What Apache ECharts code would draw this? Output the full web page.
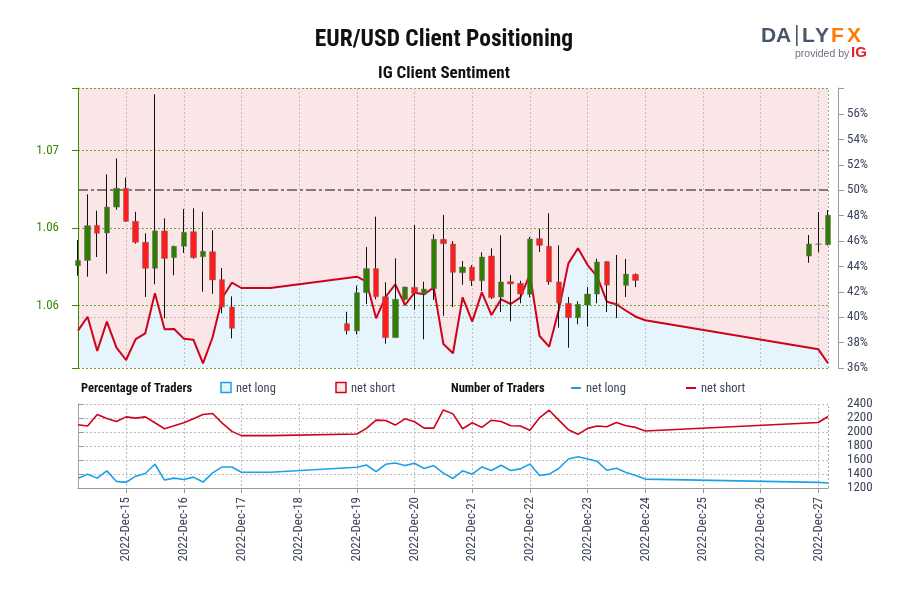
<!DOCTYPE html>
<html><head><meta charset="utf-8">
<style>html,body{margin:0;padding:0;background:#fff}#c{width:900px;height:600px}</style>
<script src="https://cdn.jsdelivr.net/npm/echarts@6/dist/echarts.min.js"></script>
</head><body><div id="c"></div>
<script>
// x positions are 4-hour slots counted from 2022-Dec-14 04:00
const dayLabels = ["2022-Dec-15","2022-Dec-16","2022-Dec-17","2022-Dec-18","2022-Dec-19","2022-Dec-20","2022-Dec-21","2022-Dec-22","2022-Dec-23","2022-Dec-24","2022-Dec-25","2022-Dec-26","2022-Dec-27"];
const dayTicks = [5,11,17,23,29,35,41,47,53,59,65,71,77];
const priceTicks = [1.06,1.065,1.07];
const priceTickLabels = ["1.06","1.06","1.07"];
const pctTicks = [36,38,40,42,44,46,48,50,52,54,56];
const traderTicks = [1200,1400,1600,1800,2000,2200,2400];

const candleSlots = [0,1,2,3,4,5,6,7,8,9,10,11,12,13,14,15,16,28,29,30,31,32,33,34,35,36,37,38,39,40,41,42,43,44,45,46,47,48,49,50,51,52,53,54,55,56,57,58,76,77,78];
const opens  = [1.06257,1.06291,1.06517,1.06468,1.06635,1.06756,1.06543,1.06408,1.0624,1.06481,1.06309,1.06382,1.06476,1.06315,1.06347,1.06167,1.0599,1.05883,1.05836,1.06083,1.06238,1.06057,1.05793,1.0604,1.06117,1.06074,1.06109,1.06427,1.06397,1.06212,1.06248,1.0616,1.06319,1.06055,1.06154,1.06143,1.06072,1.06431,1.06382,1.06152,1.06014,1.05922,1.06003,1.06074,1.06283,1.06008,1.0613,1.06201,1.06319,1.06395,1.06392];
const closes = [1.06291,1.06515,1.06466,1.06635,1.06756,1.06543,1.06408,1.0624,1.06481,1.06304,1.06382,1.06472,1.06309,1.0635,1.06165,1.0599,1.05853,1.05838,1.06083,1.06238,1.06057,1.05793,1.0604,1.06119,1.06079,1.06106,1.06427,1.06399,1.06214,1.06248,1.0616,1.06313,1.06051,1.06152,1.06139,1.06074,1.06429,1.06388,1.06152,1.06016,1.05922,1.06008,1.06074,1.06281,1.06132,1.0601,1.06203,1.06162,1.06397,1.06397,1.06582];
const lows   = [1.06192,1.06186,1.06313,1.06205,1.06618,1.06541,1.06399,1.06055,1.06137,1.05917,1.06195,1.06339,1.06302,1.06089,1.06076,1.0595,1.05788,1.05814,1.05814,1.0601,1.0604,1.05754,1.05793,1.06031,1.05973,1.05782,1.06036,1.05934,1.0599,1.06134,1.06126,1.06094,1.06042,1.05958,1.05898,1.06014,1.06053,1.06345,1.06134,1.05857,1.05728,1.05879,1.05864,1.06014,1.05958,1.05919,1.06055,1.06119,1.06276,1.06343,1.06388];
const highs  = [1.06423,1.06717,1.06612,1.06846,1.06949,1.06825,1.06605,1.06466,1.07362,1.06562,1.06386,1.06623,1.06627,1.06605,1.06485,1.06242,1.06059,1.0596,1.06128,1.06377,1.06573,1.0615,1.06304,1.06122,1.06519,1.06154,1.06459,1.06584,1.06416,1.06287,1.06261,1.06343,1.06369,1.06453,1.06197,1.0616,1.06442,1.06494,1.06595,1.06388,1.06055,1.06027,1.06119,1.06302,1.06287,1.06326,1.063,1.06208,1.06455,1.06603,1.06616];

const sentimentSlots = [0,1,2,3,4,5,6,7,8,9,10,11,12,13,14,15,16,17,20,29,30,31,32,33,34,35,36,37,38,39,40,41,42,43,44,45,46,47,48,49,50,51,52,53,54,55,56,57,58,59,77,78];
const netLongPct = [38.94,40.04,37.34,39.65,37.6,36.63,38.28,38.73,41.88,39.05,39.07,38.31,38.23,36.37,38.42,41.51,42.72,42.3,42.3,43.19,42.8,39.91,41.61,42.59,40.96,41.93,41.8,42.35,37.89,37.16,41.57,39.65,41.96,40.17,41.41,41.04,41.54,43.4,38.52,37.68,40.57,44.24,45.43,44.11,43.19,41.22,41.02,40.51,40.04,39.76,37.47,36.37];
const netShortTraders = [2104,2085,2249,2193,2151,2216,2198,2216,2132,2047,2089,2132,2188,2249,2264,2127,2009,1948,1948,1972,2052,2169,2165,2099,2188,2146,2056,2056,2315,2259,2047,2132,2066,2169,2151,2089,2085,2024,2202,2311,2169,2033,1967,2052,2085,2075,2136,2089,2066,2014,2136,2221];
const netLongTraders = [1336,1398,1341,1445,1294,1280,1369,1407,1539,1313,1341,1322,1355,1285,1416,1501,1501,1426,1426,1496,1529,1435,1539,1558,1520,1553,1478,1520,1412,1336,1445,1398,1501,1449,1525,1449,1473,1544,1379,1398,1478,1614,1647,1614,1581,1454,1482,1421,1379,1327,1280,1271];

const NARROW = "'Liberation Sans Narrow','Roboto Condensed',Roboto,sans-serif";
const SLATE = '#3d4559', GREEN = '#3a8a00', GREY = '#9a9a9a', RED = '#d0021b', BLUE = '#1ba1e8';
const pairs = (ys) => sentimentSlots.map((s,i)=>[s,ys[i]]);
const wickData = candleSlots.map((s,i)=>[s,opens[i],closes[i],lows[i],highs[i]]);
const bodyData = candleSlots.map((s,i)=>[s,opens[i],closes[i],Math.min(opens[i],closes[i]),Math.max(opens[i],closes[i])]);
const vMark = (x,color)=>({xAxis:x,lineStyle:{color,type:[2,2],width:1}});
const txt = (x,y,text,opt)=>({type:'text',x,y,silent:true,style:Object.assign({text,font:"12.5px "+NARROW,fill:SLATE,verticalAlign:'middle'},opt||{})});
const logoLetter = (x,t,c)=>txt(x,36,t,{font:"bold 21px 'Liberation Sans',sans-serif",fill:c});

const xBase = {type:'value',min:0,max:78};
const option = {
  animation:false,
  textStyle:{fontFamily:NARROW},
  title:[
    {text:'EUR/USD Client Positioning',left:439,top:23,textAlign:'center',textStyle:{fontFamily:NARROW,fontSize:23.5,fontWeight:'bold',color:'#111'}},
    {text:'IG Client Sentiment',left:439,top:60,textAlign:'center',textStyle:{fontFamily:NARROW,fontSize:17,fontWeight:'bold',color:'#111'}}
  ],
  grid:[
    {left:78,right:72,top:88,height:280,show:true,backgroundColor:'#fbe6e7',borderWidth:0},
    {left:78,right:72,top:404,height:84,show:false}
  ],
  xAxis:[
    Object.assign({},xBase,{gridIndex:0,axisLine:{show:false},axisLabel:{show:false},
      axisTick:{show:false,customValues:dayTicks},z:2,
      splitLine:{show:true,lineStyle:{color:'#bdbdbd',type:[2,2],width:1}}}),
    Object.assign({},xBase,{gridIndex:1,z:2,
      axisLine:{show:true,lineStyle:{color:GREY,width:1}},
      axisTick:{show:true,length:5,customValues:dayTicks,lineStyle:{color:GREY}},
      axisLabel:{show:true,customValues:dayTicks,rotate:90,margin:9,fontSize:13,color:SLATE,fontFamily:NARROW,padding:[3,0,0,0],
        formatter:(v)=>dayLabels[dayTicks.indexOf(v)]||''},
      splitLine:{show:true,lineStyle:{color:'#bdbdbd',type:[2,2],width:1}}})
  ],
  yAxis:[
    {type:'value',gridIndex:0,position:'left',offset:10,min:1.05597,max:1.07403,z:2,
      axisLine:{show:true,lineStyle:{color:GREEN,width:1}},
      axisTick:{show:true,length:6,customValues:[1.05597].concat(priceTicks,[1.07403]),lineStyle:{color:GREEN,width:1}},
      axisLabel:{show:true,customValues:priceTicks,color:GREEN,fontSize:13,margin:9,fontFamily:NARROW,padding:[2,0,0,0],
        formatter:(v)=>priceTickLabels[priceTicks.indexOf(v)]||''},
      splitLine:{show:true,lineStyle:{color:'#6aa83a',type:[2,2],width:1}}},
    {type:'value',gridIndex:0,position:'right',offset:10,min:36,max:58.05,z:2,
      axisLine:{show:true,lineStyle:{color:GREY,width:1}},
      axisTick:{show:true,length:6,customValues:pctTicks.concat([58.05]),lineStyle:{color:GREY}},
      axisLabel:{show:true,customValues:pctTicks,color:SLATE,fontSize:13,margin:9,fontFamily:NARROW,padding:[3,0,0,0],formatter:(v)=>v+'%'},
      splitLine:{show:false}},
    {type:'value',gridIndex:1,position:'right',offset:10,min:1200,max:2400,z:2,
      axisLine:{show:true,lineStyle:{color:GREY,width:1}},
      axisTick:{show:true,length:6,customValues:traderTicks,lineStyle:{color:GREY}},
      axisLabel:{show:true,customValues:traderTicks,color:SLATE,fontSize:13,margin:9,fontFamily:NARROW,padding:[2,0,0,0],formatter:(v)=>String(v)},
      splitLine:{show:true,lineStyle:{color:'#bdbdbd',type:[2,2],width:1}}}
  ],
  series:[
    {type:'line',name:'net long area',xAxisIndex:0,yAxisIndex:1,data:pairs(netLongPct),showSymbol:false,z:1,
      lineStyle:{opacity:0},areaStyle:{color:'#e6f4fc',opacity:1,origin:'start'},
      markLine:{silent:true,symbol:'none',label:{show:false},z:2,data:[
        vMark(0,'#4d7a2a'),vMark(78,'#a8a8a8'),
        {yAxis:40,lineStyle:{color:'#bdbdbd',type:[2,2],width:1}},
        {yAxis:50,lineStyle:{color:'#857a7a',type:[10,3,3,3],width:2}}
      ]}},
    {type:'line',name:'sentiment',xAxisIndex:0,yAxisIndex:1,data:pairs(netLongPct),showSymbol:false,z:3,
      lineStyle:{color:RED,width:2}},
    {type:'candlestick',name:'wicks',xAxisIndex:0,yAxisIndex:0,data:wickData,barWidth:1,clip:false,z:4,
      itemStyle:{color:'#111',color0:'#111',borderColor:'#111',borderColor0:'#111',borderWidth:1}},
    {type:'candlestick',name:'bodies',xAxisIndex:0,yAxisIndex:0,data:bodyData,barWidth:6,clip:false,z:5,
      itemStyle:{color:'#2f7d05',color0:'#ff1c1c',borderColor:'rgba(110,100,100,0.45)',borderColor0:'rgba(110,100,100,0.45)',borderWidth:1}},
    {type:'line',name:'net short',xAxisIndex:1,yAxisIndex:2,data:pairs(netShortTraders),showSymbol:false,z:3,
      lineStyle:{color:RED,width:1.6},
      markLine:{silent:true,symbol:'none',label:{show:false},data:[vMark(0,'#a8a8a8'),vMark(78,'#a8a8a8')]}},
    {type:'line',name:'net long',xAxisIndex:1,yAxisIndex:2,data:pairs(netLongTraders),showSymbol:false,z:3,
      lineStyle:{color:BLUE,width:1.6}}
  ],
  graphic:[
    txt(81,388.5,'Percentage of Traders',{font:"bold 12.5px "+NARROW,fill:'#111'}),
    {type:'rect',silent:true,shape:{x:221,y:382.5,width:10,height:10},style:{fill:'#e6f4fc',stroke:BLUE,lineWidth:1.5}},
    txt(236,388.5,'net long'),
    {type:'rect',silent:true,shape:{x:336,y:382.5,width:10,height:10},style:{fill:'#fbe6e7',stroke:RED,lineWidth:1.5}},
    txt(351,388.5,'net short'),
    txt(451,388.5,'Number of Traders',{font:"bold 12.5px "+NARROW,fill:'#111'}),
    {type:'line',silent:true,shape:{x1:571,y1:388,x2:581,y2:388},style:{stroke:BLUE,lineWidth:2}},
    txt(586,388.5,'net long'),
    {type:'line',silent:true,shape:{x1:686,y1:388,x2:696,y2:388},style:{stroke:RED,lineWidth:2}},
    txt(701,388.5,'net short'),
    logoLetter(761,'D','#48556a'),logoLetter(776,'A','#48556a'),
    {type:'rect',silent:true,shape:{x:796,y:25,width:1.6,height:21},style:{fill:'#48556a'}},
    logoLetter(802,'L','#48556a'),logoLetter(815,'Y','#48556a'),
    logoLetter(831,'F','#ff7a00'),logoLetter(847,'X','#ff7a00'),
    txt(795,54,'provided by',{font:"10.5px 'Liberation Sans',sans-serif",fill:'#6b7280'}),
    txt(851,53,'IG',{font:"bold 15px 'Liberation Sans',sans-serif",fill:'#e0202a'})
  ]
};
echarts.init(document.getElementById('c'),null,{renderer:'canvas'}).setOption(option);
</script></body></html>
